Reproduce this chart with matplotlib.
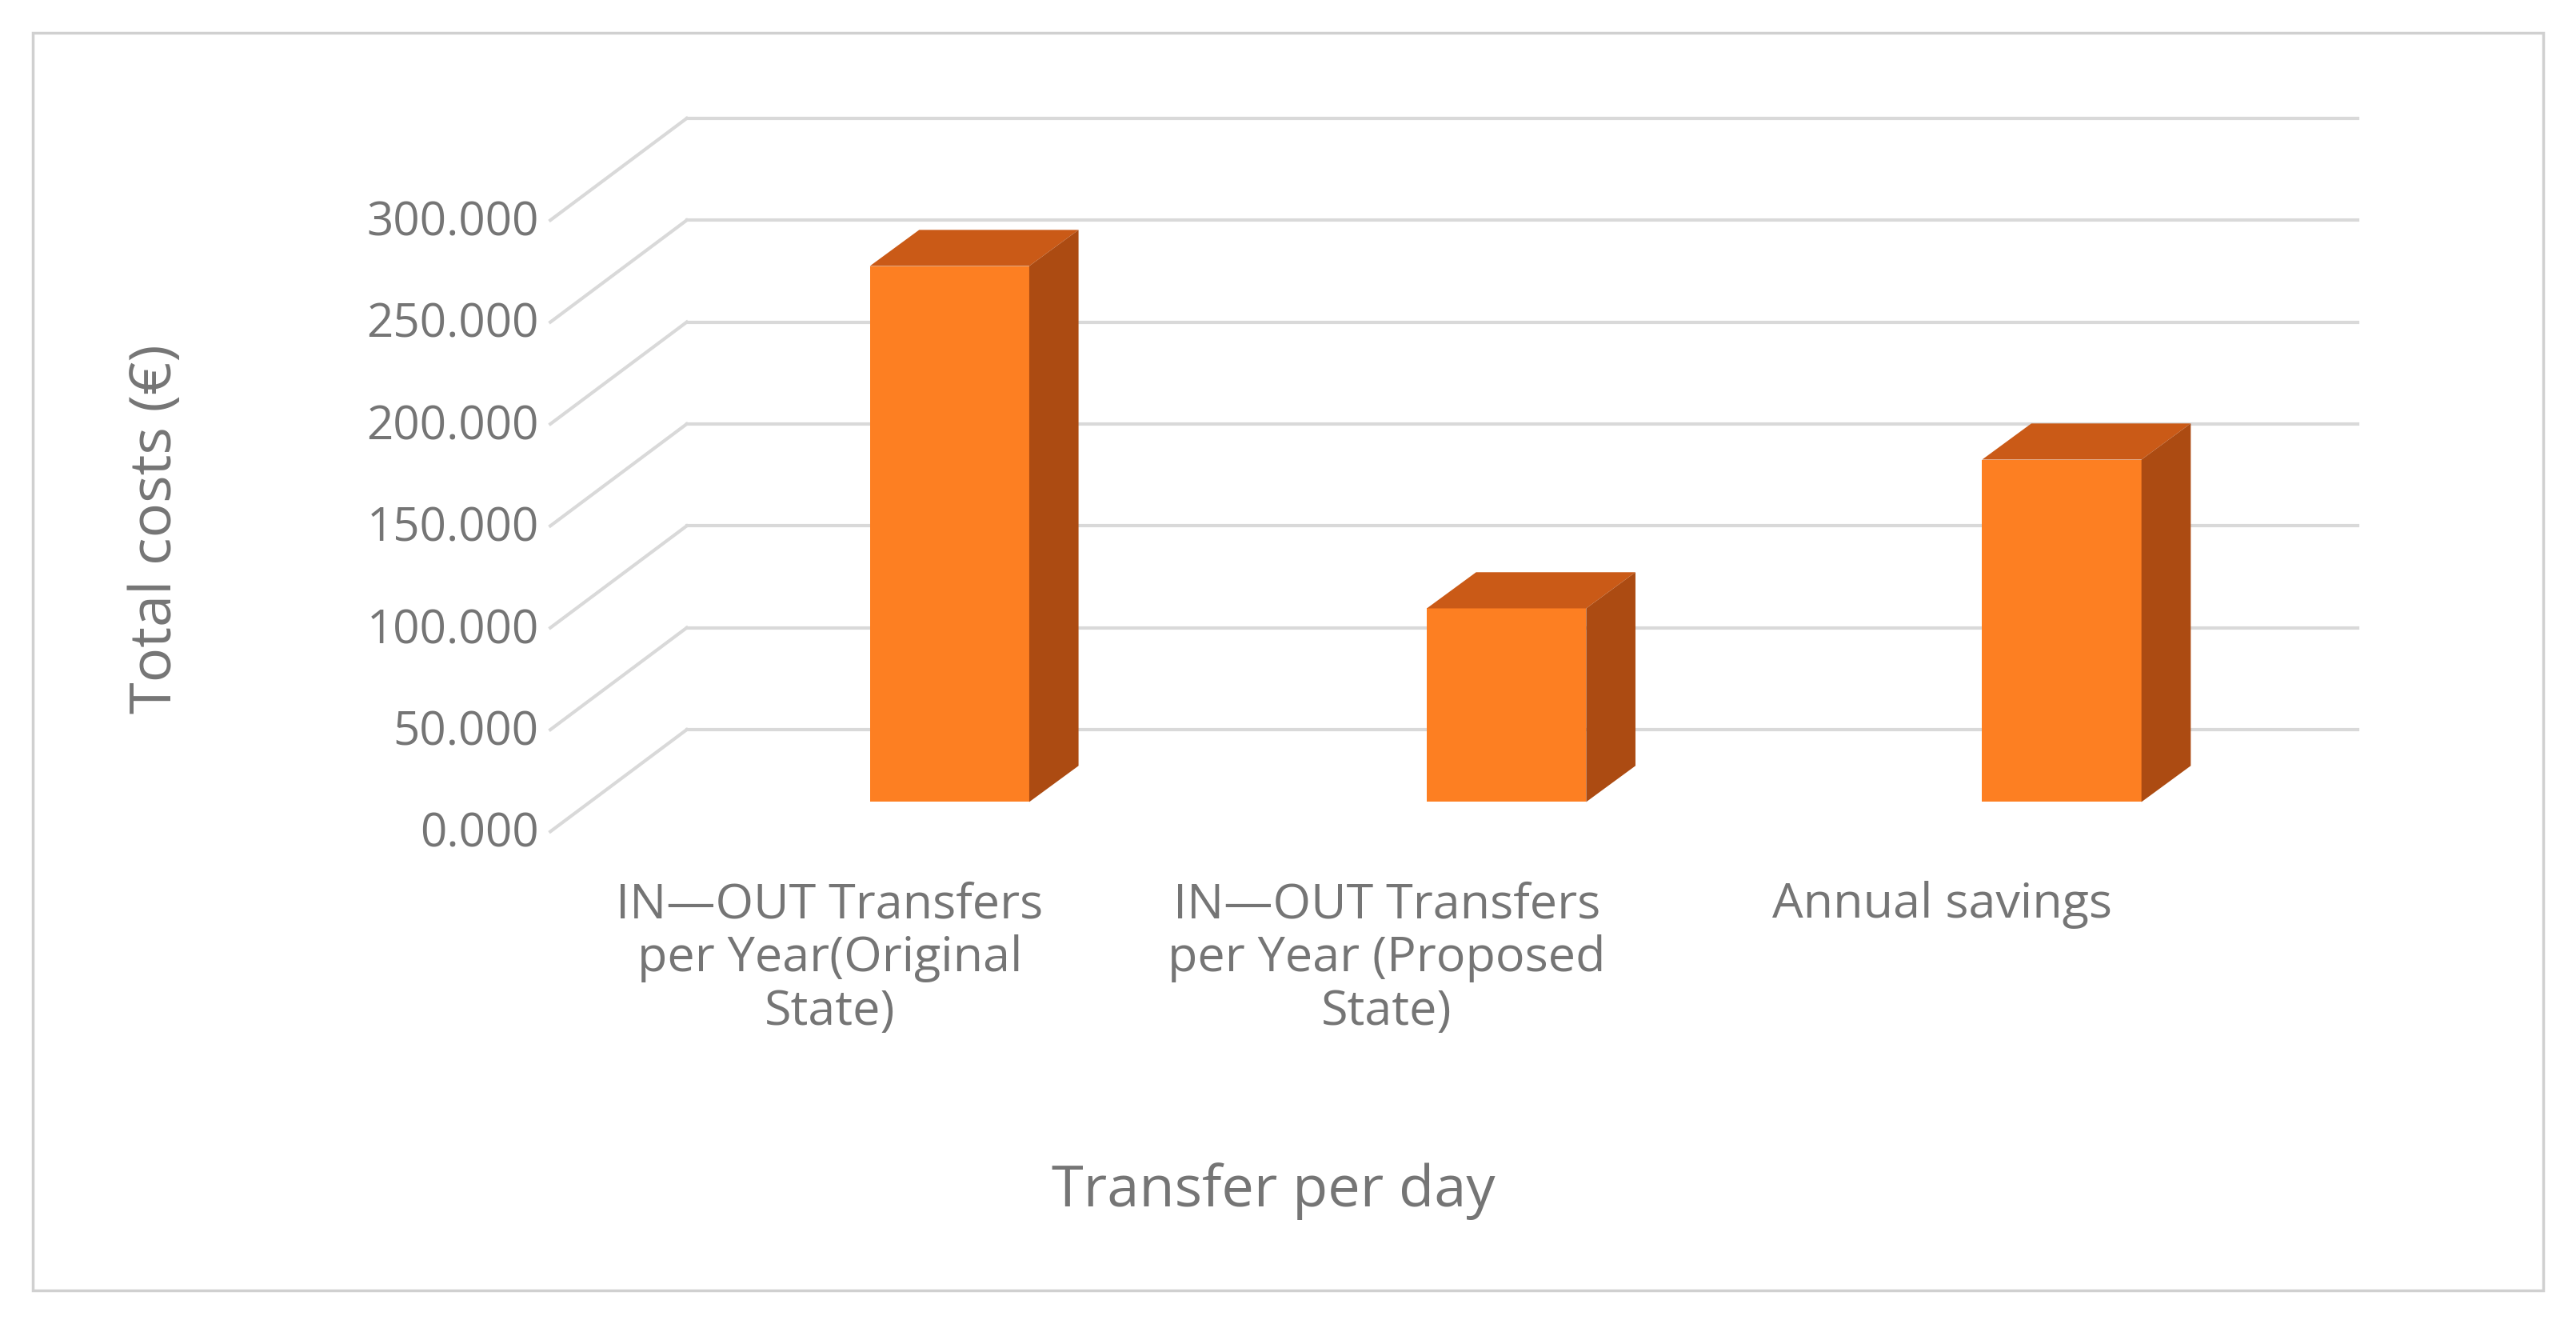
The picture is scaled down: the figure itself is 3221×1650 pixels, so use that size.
import matplotlib.pyplot as plt
from matplotlib.patches import Polygon, Rectangle

categories = ["IN\u2014OUT Transfers\nper Year(Original\nState)",
              "IN\u2014OUT Transfers\nper Year (Proposed\nState)",
              "Annual savings"]
values = [263000, 95000, 168000]
ticks = [0, 50000, 100000, 150000, 200000, 250000, 300000]
tick_labels = ["0.000", "50.000", "100.000", "150.000", "200.000", "250.000", "300.000"]

W, H = 1568, 1568 * 1650 / 3221
fig = plt.figure(figsize=(32.21, 16.5), dpi=100)
ax = fig.add_axes([0, 0, 1, 1])
ax.set_xlim(0, W)
ax.set_ylim(H, 0)
ax.axis("off")

plt.rcParams['font.family'] = ['Open Sans', 'DejaVu Sans']
grey = "#757575"
step = 62.0  # px per 50k
front0 = 506.0
dx, dy = 83, -62  # depth offset front->back

def ypix(v, base):
    return base - v / 50000 * step

ax.add_patch(Rectangle((20, 20), 1528, 765, fill=False, ec="#d0d0d0", lw=2.5))

# grid: back wall lines + diagonal floor/side lines
for v in ticks:
    yf = ypix(v, front0)
    yb = yf + dy
    ax.plot([418, 1435], [yb, yb], color="#d9d9d9", lw=3, zorder=1)
    ax.plot([335, 418], [yf, yb], color="#d9d9d9", lw=3, zorder=1)
for v, lab in zip(ticks, tick_labels):
    ax.text(328, ypix(v, front0) + 2, lab, ha="right", va="center", fontsize=42, color=grey)

# bars
centers = [578, 917, 1255]
bw = 97
bdx, bdy = 30, -22
base = 488.0
for c, v, lab in zip(centers, values, categories):
    x0, x1 = c - bw / 2, c + bw / 2
    yt = ypix(v, base)
    ax.add_patch(Polygon([(x0, base), (x1, base), (x1, yt), (x0, yt)], closed=True,
                         fc="#fd7f22", ec="none", zorder=3))
    ax.add_patch(Polygon([(x0, yt), (x1, yt), (x1 + bdx, yt + bdy), (x0 + bdx, yt + bdy)],
                         closed=True, fc="#ca5a17", ec="none", zorder=3))
    ax.add_patch(Polygon([(x1, base), (x1 + bdx, base + bdy), (x1 + bdx, yt + bdy), (x1, yt)],
                         closed=True, fc="#ac4b12", ec="none", zorder=3))
    ax.text(c - 73, 536, lab, ha="center", va="top", fontsize=44, color=grey,
            linespacing=1.15, multialignment="center")

ax.text(775, 725, "Transfer per day", ha="center", va="center", fontsize=52, color=grey)
ax.text(95, 322, "Total costs (\u20ac)", ha="center", va="center", rotation=90,
        fontsize=52, color=grey)

fig.savefig("out.png", dpi=100)
